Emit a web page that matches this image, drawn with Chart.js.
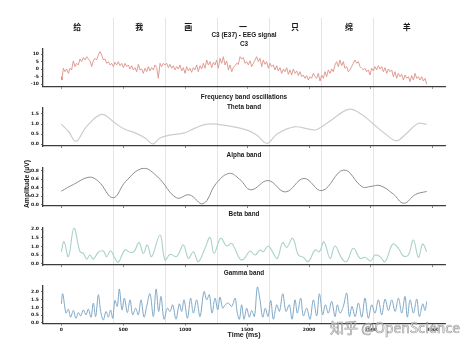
<!DOCTYPE html>
<html lang="en">
<head>
  <meta charset="UTF-8" />
  <title>C3 EEG signal and frequency bands</title>
  <script src="https://cdn.jsdelivr.net/npm/chart.js"></script>
  <style>
    body { margin: 0; background: #fff; }
    #wrap { position: relative; width: 474px; height: 349px; }
    #wrap canvas { position: absolute; left: 0; top: 0; }
  </style>
</head>
<body>
  <div id="wrap">
    <canvas id="eeg" width="474" height="349"></canvas>
    <canvas id="theta" width="474" height="349"></canvas>
    <canvas id="alpha" width="474" height="349"></canvas>
    <canvas id="beta" width="474" height="349"></canvas>
    <canvas id="gamma" width="474" height="349"></canvas>
  </div>

  <script>
    // words of the sentence and where they sit in time (ms)
    const words = ["给", "我", "画", "一", "只", "绵", "羊"];
    const wordTimes = [129, 629, 1024, 1467, 1887, 2323, 2790];
    const boundaries = [420, 840, 1260, 1680, 2100, 2520];

    // raw C3 signal (µV)
    const eegT = [0, 5, 16, 30, 43, 57, 70, 83, 97, 110, 124, 137, 151, 164, 178, 191, 205, 218, 232, 245, 258, 272, 285, 299, 312, 326, 339, 353, 366, 380, 393, 406, 420, 433, 447, 460, 474, 487, 501, 514, 528, 541, 555, 568, 581, 595, 608, 622, 635, 649, 662, 676, 689, 703, 716, 729, 743, 756, 770, 783, 797, 810, 824, 837, 851, 864, 877, 891, 904, 918, 931, 945, 958, 972, 985, 999, 1012, 1026, 1039, 1052, 1066, 1079, 1093, 1106, 1120, 1133, 1147, 1160, 1174, 1187, 1201, 1214, 1228, 1241, 1254, 1268, 1281, 1295, 1308, 1322, 1335, 1349, 1362, 1376, 1389, 1403, 1416, 1429, 1443, 1456, 1470, 1483, 1497, 1510, 1524, 1537, 1550, 1564, 1577, 1591, 1604, 1618, 1631, 1645, 1658, 1672, 1685, 1698, 1712, 1725, 1739, 1752, 1766, 1779, 1793, 1806, 1820, 1833, 1846, 1860, 1873, 1887, 1901, 1914, 1927, 1941, 1954, 1968, 1981, 1994, 2008, 2021, 2035, 2048, 2062, 2075, 2089, 2102, 2116, 2129, 2142, 2156, 2170, 2183, 2196, 2210, 2223, 2237, 2250, 2264, 2277, 2290, 2304, 2317, 2331, 2344, 2358, 2371, 2385, 2398, 2412, 2425, 2439, 2452, 2466, 2479, 2492, 2506, 2519, 2533, 2546, 2560, 2574, 2587, 2600, 2614, 2627, 2641, 2654, 2668, 2681, 2694, 2708, 2721, 2735, 2748, 2762, 2775, 2789, 2802, 2816, 2829, 2843, 2856, 2869, 2883, 2896, 2910, 2923, 2937, 2950];
    const eegV = [-4.9, -7.1,
      0.7, -1.6, 0.2, -2.7, 0.7, -0.4, 5.6, 1.8, 4.0, 2.9,
      6.9, 5.1, 7.8, 6.2, 8.4, 6.9, 5.6, 1.8, 5.6, 7.3,
      6.2, 9.6, 11.8, 9.6, 6.2, 6.9, 4.0, 5.1, 2.9, 4.0,
      1.8, 4.7, 2.9, 5.1, 2.4, 4.0, 1.1, 4.0, 1.8, 2.9,
      0.2, 2.4, -0.4, 1.1, -1.6, 3.3, -0.4, 0.2, -2.7, 0.7,
      -1.6, 1.8, -1.1, 1.1, -0.4, 2.9, 1.1, -6.0, 4.0, 1.8,
      4.0, 2.9, 4.0, 1.1, 3.3, 0.7, 2.4, -0.4, 1.8, 0.2,
      2.9, -1.1, 1.1, -2.7, 1.8, -1.1, 0.7, -2.0, 1.1, -0.4,
      2.9, -1.6, 2.4, 0.2, 4.0, 0.7, 6.2, 2.9, 5.1, 1.1,
      4.7, 2.9, 6.2, 0.7, 7.3, 4.0, 8.4, 2.9, 5.6, -0.4,
      2.9, -1.6, 1.1, 2.4, 4.0, 3.3, 8.4, 6.9, 7.8, 4.0,
      5.1, 2.9, 5.6, 1.8, 4.0, 6.2, 8.4, 5.1, 7.3, 1.8,
      6.2, 3.3, 5.1, 0.7, 4.0, 1.8, 2.9, -0.4, 2.4, -1.1,
      1.1, -2.7, 0.2, -1.6, 1.1, -3.3, -0.4, -3.8, 0.2, -2.7,
      -1.1, -4.2, -1.6, -4.9, -3.8, -6.0, -4.2, -7.1, -4.9, -6.0,
      -2.7, -4.9, -6.0, -2.7, -7.8, -3.8, -6.0, -1.6, -4.9, -0.4,
      -2.7, 0.2, -1.6, 2.9, 5.1, 1.8, 6.2, 2.4, 5.1, 0.7,
      1.8, -1.6, -0.4, 1.8, 4.0, 6.2, 4.0, 5.1, 1.8, 0.7,
      -0.4, 0.7, -1.6, -0.4, -3.8, 0.7, -1.1, 1.8, -0.4, 2.4,
      0.2, 1.8, -1.6, 1.1, -2.7, 0.2, -1.6, -0.4, -4.9, -1.6,
      -6.0, -2.7, -4.9, -3.3, -7.1, -3.8, -6.0, -4.9, -8.2, -4.2,
      -7.1, -2.7, -6.0, -4.9, -7.1, -4.9, -7.8, -6.0, -10.0];

    // band amplitudes (µV)
    const thetaT = [0, 60, 118, 200, 325, 420, 500, 600, 680, 738, 800, 900, 985, 1080, 1180, 1335, 1500, 1580, 1660, 1740, 1880, 2000, 2060, 2170, 2320, 2420, 2520, 2620, 2705, 2780, 2880, 2950];
    const thetaV = [1.0, 0.62, 0.15, 0.85, 1.48, 1.12, 0.78, 0.55, 0.3, 0.02, 0.32, 0.48, 0.55, 0.8, 1.0, 0.92, 0.7, 0.45, 0.05, 0.5, 0.86, 0.75, 0.72, 1.15, 1.73, 1.5, 1.0, 0.5, 0.17, 0.5, 1.03, 0.98];

    const alphaT = [0, 100, 224, 300, 418, 520, 660, 780, 930, 1035, 1145, 1250, 1355, 1440, 1530, 1670, 1810, 1960, 2105, 2280, 2430, 2500, 2574, 2680, 2765, 2860, 2950];
    const alphaV = [0.32, 0.48, 0.65, 0.55, 0.16, 0.55, 0.86, 0.65, 0.16, 0.23, 0.02, 0.5, 0.74, 0.6, 0.35, 0.57, 0.3, 0.62, 0.33, 0.82, 0.42, 0.43, 0.45, 0.25, 0.03, 0.24, 0.31];

    const betaT = [0, 22, 57, 102, 151, 178, 205, 231, 258, 299, 339, 366, 398, 433, 460, 514, 555, 587, 627, 662, 694, 729, 797, 837, 878, 931, 985, 1026, 1066, 1106, 1160, 1201, 1233, 1287, 1335, 1376, 1443, 1475, 1524, 1564, 1604, 1631, 1672, 1712, 1744, 1787, 1820, 1868, 1914, 1954, 1995, 2048, 2083, 2121, 2170, 2210, 2264, 2304, 2358, 2412, 2452, 2498, 2533, 2573, 2614, 2676, 2721, 2762, 2802, 2843, 2883, 2918, 2950];
    const betaV = [0.70, 1.28, 0.42, 2.04, 0.70, 0.61, 0.27, 0.51, 0.27, 0.67, 0.74, 0.42, 0.76, 0.32, 0.10, 0.80, 0.67, 0.70, 1.22, 0.61, 1.09, 0.42, 1.66, 0.23, 0.55, 0.42, 1.09, 0.32, 0.70, 0.13, 0.90, 1.52, 0.61, 1.47, 1.03, 1.18, 0.27, 0.29, 0.74, 0.51, 0.80, 0.70, 1.03, 0.61, 0.32, 1.22, 0.95, 1.47, 0.51, 0.38, 0.13, 0.80, 0.70, 1.26, 0.32, 1.03, 0.32, 0.13, 0.90, 0.32, 0.38, 0.17, 0.51, 0.42, 0.13, 1.14, 0.90, 0.46, 0.51, 1.37, 0.38, 1.14, 0.70];

    const gammaT = [0, 11, 38, 57, 75, 97, 118, 137, 156, 178, 199, 218, 240, 258, 277, 299, 318, 339, 361, 380, 398, 415, 433, 452, 468, 490, 509, 533, 555, 576, 600, 622, 643, 668, 689, 716, 743, 765, 786, 805, 829, 856, 878, 899, 926, 953, 972, 991, 1018, 1044, 1066, 1093, 1120, 1152, 1174, 1195, 1217, 1241, 1263, 1281, 1303, 1324, 1349, 1376, 1403, 1421, 1438, 1456, 1475, 1497, 1518, 1537, 1559, 1583, 1604, 1626, 1647, 1669, 1691, 1712, 1739, 1761, 1788, 1814, 1841, 1863, 1887, 1906, 1933, 1954, 1981, 2008, 2035, 2062, 2084, 2110, 2132, 2156, 2183, 2210, 2229, 2251, 2277, 2304, 2326, 2347, 2372, 2399, 2426, 2452, 2479, 2506, 2533, 2560, 2587, 2614, 2641, 2668, 2695, 2722, 2749, 2775, 2794, 2816, 2843, 2870, 2891, 2918, 2937, 2950];
    const gammaV = [1.23, 1.88, 0.63, 0.89, 0.37, 0.80, 0.30, 0.67, 0.45, 0.84, 0.52, 0.89, 0.37, 1.28, 0.41, 1.82, 0.74, 0.19, 0.74, 0.37, 0.84, 0.30, 1.45, 1.06, 2.19, 0.84, 1.60, 0.67, 1.49, 0.52, 0.95, 0.52, 1.49, 0.37, 1.06, 1.88, 0.41, 2.19, 0.74, 1.71, 0.24, 0.95, 0.74, 1.17, 0.24, 1.23, 0.74, 1.49, 0.30, 1.60, 0.63, 1.49, 0.41, 2.03, 1.49, 1.82, 0.63, 1.60, 0.84, 1.67, 0.95, 1.17, 1.28, 1.06, 1.60, 0.63, 0.24, 1.17, 0.24, 0.95, 0.37, 0.80, 0.41, 2.32, 1.49, 0.37, 0.95, 0.41, 1.45, 0.24, 1.17, 0.74, 1.88, 0.74, 1.17, 0.24, 1.49, 0.63, 1.60, 0.45, 0.95, 0.24, 1.49, 0.45, 1.88, 0.52, 1.17, 0.63, 1.39, 0.41, 1.17, 0.63, 1.06, 1.93, 0.41, 1.06, 0.41, 1.28, 0.37, 1.60, 0.30, 1.17, 0.63, 1.49, 0.52, 1.54, 0.80, 1.49, 0.74, 1.60, 0.63, 1.71, 0.37, 1.49, 0.63, 1.54, 0.41, 1.23, 0.80, 1.39];

    const xTicks = [0, 500, 1000, 1500, 2000, 2500, 3000];

    const TITLE_FONT = '"Liberation Sans", Arial, sans-serif';
    const TICK_FONT = { family: '"DejaVu Sans", sans-serif', size: 4.5, weight: 'bold' };

    // one canvas per panel, all the same size and stacked, so they share pixel space
    const panels = [
      { id: "eeg", t: eegT, v: eegV, color: "#dc9288", width: 0.9, tension: 0, top: 48.3, bottom: 86.7, min: -11.6, max: 14, step: 5, dec: 0 },
      { id: "theta", t: thetaT, v: thetaV, color: "#cdcdcd", width: 1.2, tension: 0.4, top: 107.3, bottom: 146, min: -0.085, max: 1.83, step: 0.5, dec: 1 },
      { id: "alpha", t: alphaT, v: alphaV, color: "#8e8e8e", width: 1.0, tension: 0.4, top: 167.5, bottom: 206, min: -0.035, max: 0.88, step: 0.2, dec: 1 },
      { id: "beta", t: betaT, v: betaV, color: "#a9d2ca", width: 1.1, tension: 0.4, top: 227.3, bottom: 265, min: -0.06, max: 2.1, step: 0.5, dec: 1 },
      { id: "gamma", t: gammaT, v: gammaV, color: "#7fa8c6", width: 1.0, tension: 0.35, top: 285.7, bottom: 323.7, min: -0.05, max: 2.4, step: 0.5, dec: 1 }
    ];

    function drawText(ctx, txt, x, y, size) {
      ctx.font = "bold " + size + "px " + TITLE_FONT;
      ctx.fillText(txt, x, y);
    }

    // word boundaries, words and titles (drawn on the lowest canvas)
    const overlay = {
      id: "overlay",
      beforeDraw(chart) {
        const { ctx, scales: { x } } = chart;
        ctx.save();
        ctx.strokeStyle = "#e4e4e4";
        ctx.lineWidth = 1;
        boundaries.forEach(b => {
          const px = Math.round(x.getPixelForValue(b)) + 0.5;
          ctx.beginPath();
          ctx.moveTo(px, 18);
          ctx.lineTo(px, 323);
          ctx.stroke();
        });
        ctx.restore();
      },
      afterDraw(chart) {
        const { ctx, scales: { x } } = chart;
        const cx = (x.left + x.right) / 2;
        ctx.save();
        ctx.fillStyle = "#1a1a1a";
        ctx.textAlign = "center";
        ctx.textBaseline = "middle";
        ctx.font = 'bold 8px "Noto Sans CJK SC", sans-serif';
        words.forEach((w, i) => ctx.fillText(w, x.getPixelForValue(wordTimes[i]), 27));
        drawText(ctx, "C3 (E37) - EEG signal", cx, 35, 6.4);
        drawText(ctx, "C3", cx, 44, 6.4);
        drawText(ctx, "Frequency band oscillations", cx, 97, 6.4);
        drawText(ctx, "Theta band", cx, 107, 6.4);
        drawText(ctx, "Alpha band", cx, 155, 6.4);
        drawText(ctx, "Beta band", cx, 214, 6.4);
        drawText(ctx, "Gamma band", cx, 273, 6.4);
        drawText(ctx, "Time (ms)", cx, 335, 7);
        ctx.translate(27, 184);
        ctx.rotate(-Math.PI / 2);
        drawText(ctx, "Amplitude (µV)", 0, 0, 6.8);
        ctx.restore();
      }
    };

    // watermark on the topmost canvas
    const watermark = {
      id: "watermark",
      afterDraw(chart) {
        const ctx = chart.ctx;
        ctx.save();
        ctx.font = '14px "Noto Sans CJK SC", sans-serif';
        ctx.textAlign = "left";
        ctx.textBaseline = "middle";
        ctx.fillStyle = "rgba(255,255,255,0.7)";
        ctx.strokeStyle = "rgba(130,130,130,0.75)";
        ctx.lineWidth = 0.7;
        ctx.fillText("知乎 @OpenScience", 330, 328);
        ctx.strokeText("知乎 @OpenScience", 330, 328);
        ctx.restore();
      }
    };

    panels.forEach((p, i) => {
      const last = i === panels.length - 1;
      const xHeight = last ? 10 : 3;
      new Chart(document.getElementById(p.id), {
        type: "line",
        data: {
          datasets: [{
            data: p.t.map((t, k) => ({ x: t, y: p.v[k] })),
            borderColor: p.color,
            borderWidth: p.width,
            tension: p.tension,
            pointRadius: 0,
            fill: false
          }]
        },
        options: {
          responsive: false,
          animation: false,
          events: [],
          layout: { padding: { left: 0, right: 29, top: p.top, bottom: 349 - p.bottom - xHeight } },
          plugins: { legend: { display: false }, tooltip: { enabled: false } },
          scales: {
            x: {
              type: "linear",
              min: -148,
              max: 3098,
              afterFit: s => { s.height = xHeight; },
              afterBuildTicks: s => { s.ticks = xTicks.map(v => ({ value: v })); },
              border: { display: true, color: "#3c3c3c", width: 1.3 },
              grid: { display: true, drawOnChartArea: false, drawTicks: true, tickLength: 2, color: "#555", lineWidth: 0.8 },
              ticks: { display: last, padding: 1, font: TICK_FONT, color: "#222", maxRotation: 0, autoSkip: false, callback: v => String(v) }
            },
            y: {
              min: p.min,
              max: p.max,
              afterFit: s => { s.width = 43; },
              border: { display: true, color: "#3c3c3c", width: 1.3 },
              grid: { display: true, drawOnChartArea: false, drawTicks: true, tickLength: 2, color: "#555", lineWidth: 0.8 },
              ticks: {
                stepSize: p.step,
                includeBounds: false,
                padding: 2,
                font: TICK_FONT,
                color: "#222",
                callback: v => v.toFixed(p.dec)
              }
            }
          }
        },
        plugins: i === 0 ? [overlay] : (last ? [watermark] : [])
      });
    });
  </script>
</body>
</html>
